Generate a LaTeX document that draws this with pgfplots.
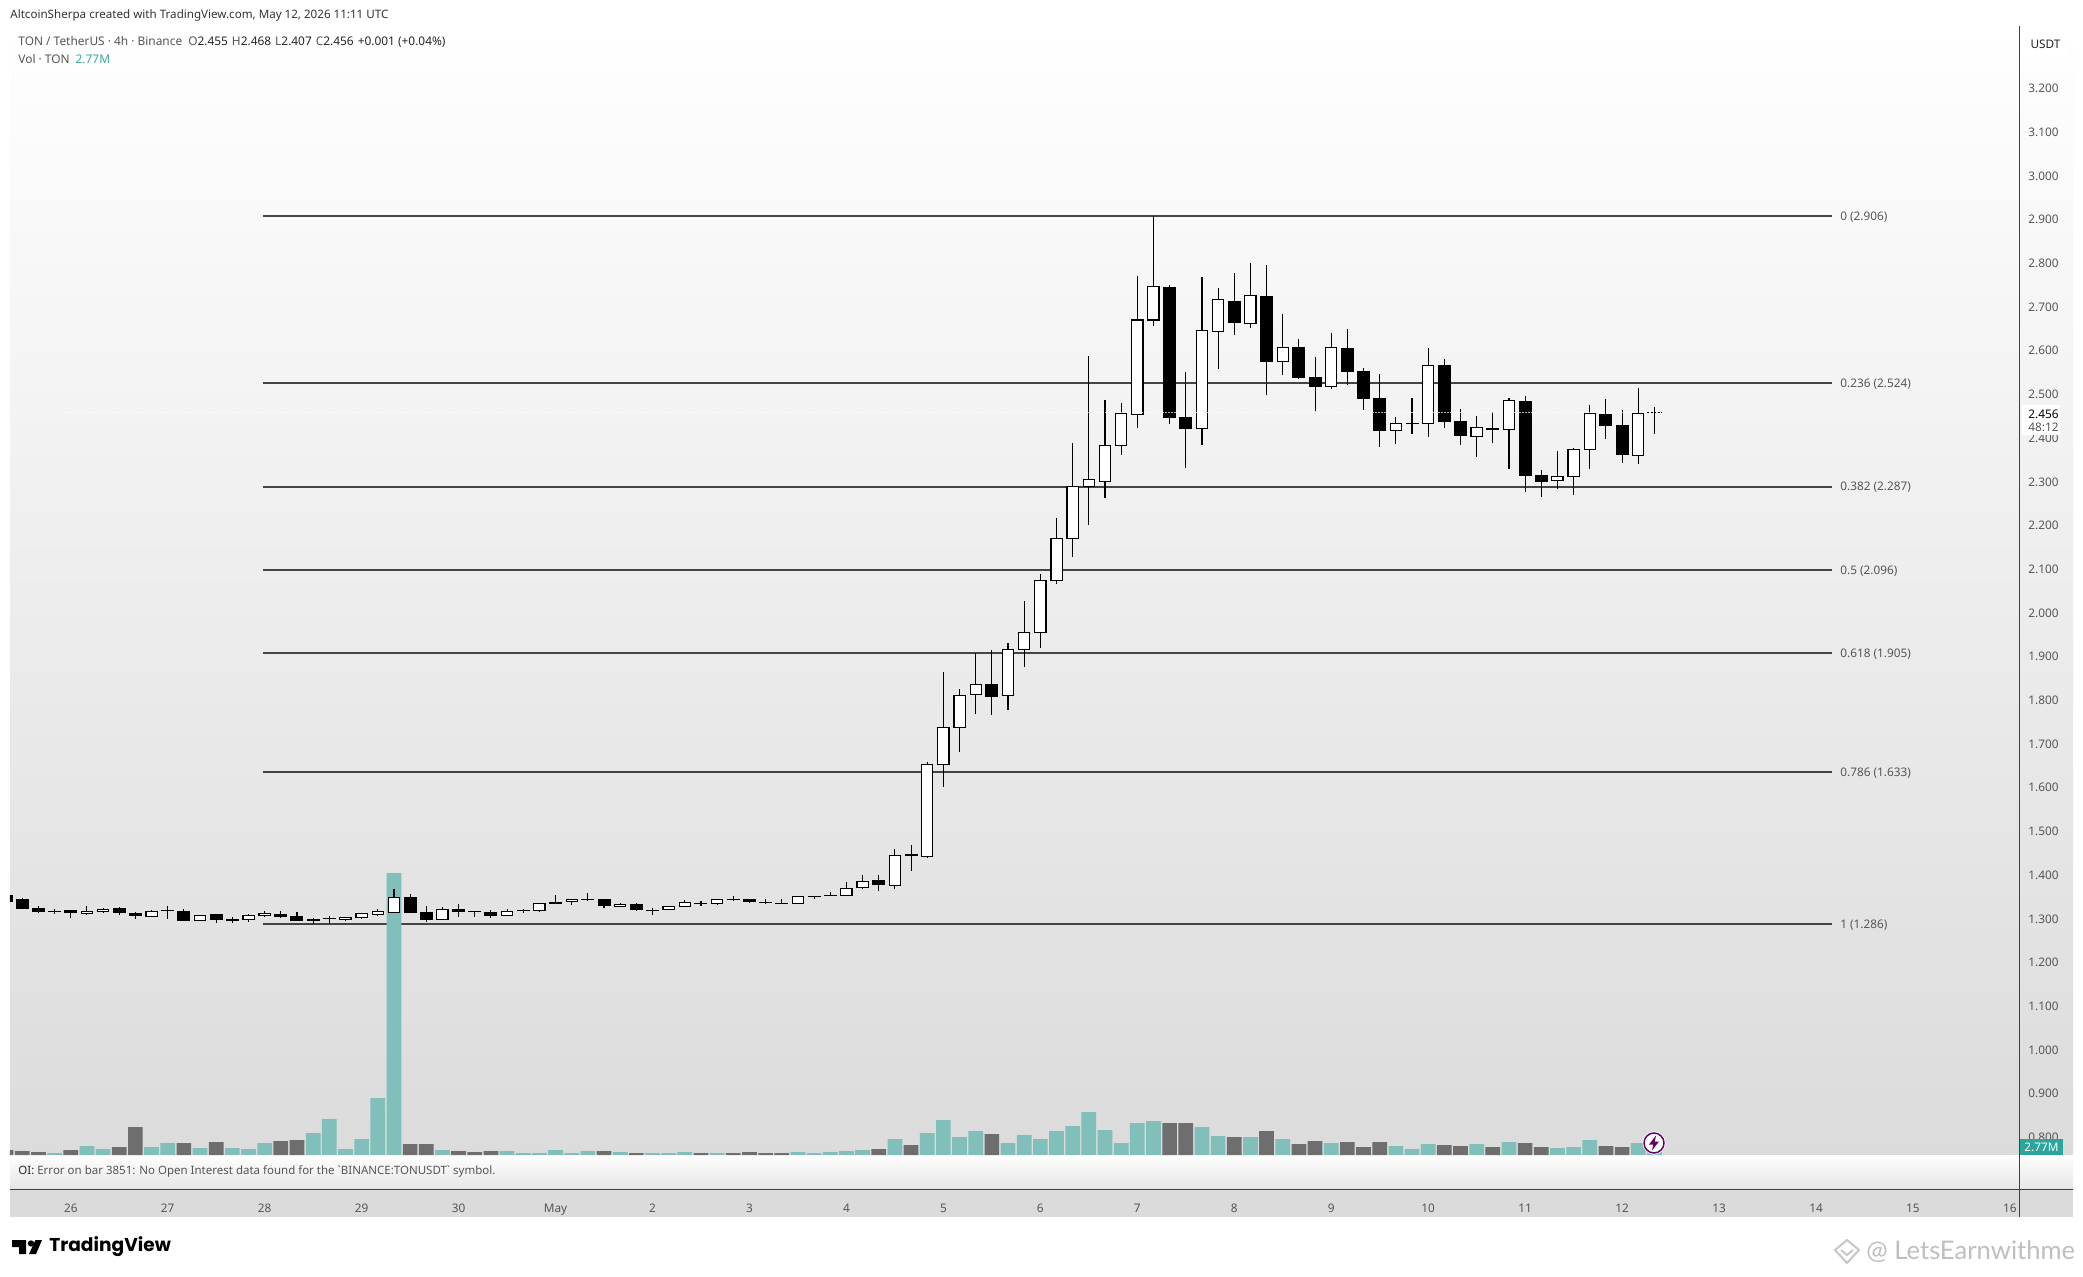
\documentclass[border=0pt]{standalone}
\usepackage{pgfplots}
\usepackage{pgfplotstable}
\pgfplotsset{compat=1.18}
\usepackage{fontspec}
\setmainfont{Noto Sans}
\newfontfamily\logofont{Poppins}
\newfontfamily\wmfont{Lato}
\definecolor{upv}{HTML}{80BFBA}
\definecolor{downv}{HTML}{6E6E6E}
\definecolor{fib}{HTML}{444444}
\definecolor{lab}{HTML}{555555}
\definecolor{tealtxt}{HTML}{3FA79C}
\definecolor{tagteal}{HTML}{2CA59B}
\pgfplotstableread{
k o h l c
4 1.310 1.327 1.307 1.315
5 1.315 1.323 1.310 1.320
8 1.303 1.317 1.303 1.315
11 1.294 1.306 1.294 1.306
14 1.296 1.308 1.291 1.306
15 1.305 1.316 1.301 1.311
20 1.297 1.303 1.293 1.301
21 1.300 1.310 1.298 1.310
22 1.307 1.320 1.305 1.314
23 1.313 1.365 1.313 1.347
26 1.297 1.324 1.297 1.319
30 1.306 1.321 1.305 1.315
32 1.317 1.333 1.314 1.333
34 1.337 1.344 1.330 1.343
37 1.326 1.335 1.324 1.331
40 1.320 1.326 1.319 1.326
41 1.326 1.341 1.324 1.334
43 1.333 1.343 1.329 1.343
48 1.333 1.349 1.333 1.349
51 1.352 1.381 1.352 1.368
52 1.370 1.397 1.365 1.384
54 1.3735 1.4575 1.366 1.443
56 1.440 1.657 1.437 1.651
57 1.651 1.862 1.600 1.736
58 1.736 1.824 1.680 1.809
59 1.810 1.906 1.767 1.833
61 1.808 1.929 1.776 1.913
62 1.913 2.025 1.875 1.952
63 1.952 2.087 1.918 2.073
64 2.071 2.215 2.065 2.169
65 2.169 2.387 2.126 2.286
66 2.286 2.586 2.200 2.302
67 2.298 2.485 2.261 2.380
68 2.380 2.479 2.359 2.453
69 2.451 2.769 2.421 2.668
70 2.668 2.906 2.654 2.744
73 2.419 2.766 2.382 2.643
74 2.641 2.741 2.556 2.714
76 2.661 2.798 2.650 2.723
78 2.573 2.682 2.542 2.606
81 2.515 2.638 2.511 2.604
85 2.415 2.446 2.384 2.432
87 2.432 2.605 2.400 2.565
90 2.401 2.448 2.355 2.421
92 2.418 2.490 2.326 2.483
95 2.300 2.369 2.282 2.309
96 2.309 2.374 2.268 2.371
97 2.371 2.474 2.326 2.453
100 2.359 2.513 2.339 2.453
}\upc
\pgfplotstableread{
k o h l c
-1 1.352 1.352 1.337 1.337
0 1.343 1.346 1.321 1.321
1 1.322 1.327 1.310 1.314
2 1.316 1.321 1.309 1.315
3 1.317 1.317 1.300 1.310
6 1.322 1.324 1.306 1.310
7 1.311 1.314 1.297 1.305
9 1.318 1.326 1.298 1.317
10 1.316 1.321 1.293 1.293
12 1.308 1.308 1.288 1.296
13 1.296 1.303 1.288 1.295
16 1.309 1.316 1.300 1.302
17 1.304 1.314 1.293 1.293
18 1.297 1.299 1.286 1.293
19 1.299 1.304 1.287 1.299
24 1.347 1.355 1.310 1.310
25 1.313 1.328 1.291 1.296
27 1.320 1.332 1.301 1.314
28 1.315 1.315 1.303 1.315
29 1.313 1.318 1.299 1.305
31 1.317 1.321 1.310 1.317
33 1.336 1.353 1.333 1.333
35 1.343 1.356 1.339 1.343
36 1.343 1.343 1.323 1.326
38 1.331 1.333 1.317 1.319
39 1.317 1.323 1.306 1.317
42 1.333 1.339 1.327 1.333
44 1.343 1.349 1.339 1.343
45 1.343 1.343 1.333 1.337
46 1.336 1.343 1.332 1.336
47 1.333 1.343 1.333 1.333
49 1.349 1.349 1.342 1.349
50 1.352 1.358 1.349 1.352
53 1.386 1.399 1.362 1.374
55 1.444 1.467 1.408 1.444
60 1.835 1.913 1.765 1.805
71 2.7435 2.748 2.431 2.4445
72 2.446 2.549 2.330 2.419
75 2.7115 2.776 2.634 2.660
77 2.723 2.794 2.497 2.573
79 2.606 2.625 2.533 2.535
80 2.538 2.584 2.4605 2.515
82 2.604 2.648 2.519 2.549
83 2.551 2.558 2.462 2.488
84 2.490 2.5445 2.378 2.414
86 2.432 2.490 2.408 2.432
88 2.565 2.579 2.421 2.435
89 2.437 2.464 2.382 2.403
91 2.420 2.458 2.387 2.4175
93 2.483 2.495 2.275 2.312
94 2.313 2.3255 2.264 2.298
98 2.453 2.487 2.396 2.426
99 2.428 2.462 2.3415 2.358
}\downc
\pgfplotstableread{
k o h l c
101 2.455 2.468 2.407 2.456
}\livec
\pgfplotstableread{
k v
2 2
4 9
5 6
8 8
9 12
11 7
13 7
14 6
15 12
18 22
19 36
20 6
21 16
22 57
23 282
26 5
30 4
31 2
32 2
33 5
34 2
35 4
37 3
39 2
40 2
41 3
43 2
48 3
49 2
50 3
51 4
52 5
54 16
56 22
57 35
58 18
59 24
61 12
62 20
63 16
64 24
65 29
66 43
67 25
68 12
69 32
70 34
73 28
74 19
76 18
78 16
81 12
85 9
86 6
87 11
90 11
92 13
95 7
96 8
97 15
100 12
101 3
}\volup
\pgfplotstableread{
k v
-1 5
0 4
1 3
3 5
6 8
7 28
10 12
12 13
16 14
17 15
24 11
25 11
27 4
28 3
29 4
36 4
38 2
42 2
44 2
45 3
46 2
47 2
53 6
55 10
60 21
71 32
72 32
75 18
77 24
79 11
80 14
82 13
83 8
84 13
88 10
89 9
91 8
93 12
94 8
98 9
99 8
}\voldown
\pgfplotsset{
  frame/.style={width=1004.5pt,height=564.5pt,scale only axis,at={(5pt,-577.5pt)},anchor=south west,
    xmin=-0.76,xmax=123.56},
  bare/.style={frame,axis lines=none,ticks=none},
}
\newcommand{\fs}{\fontsize{5.9pt}{7pt}\selectfont}
\begin{document}
\begin{tikzpicture}
\begin{scope}[x=0.5pt,y=-0.5pt]
\path[use as bounding box] (0,0) rectangle (2083,1277);
\fill[white] (0,0) rectangle (2083,1277);
\shade[top color=white,bottom color=black!14] (10,26) rectangle (2073,1155);
\shade[top color=white,bottom color=black!10] (10,1155) rectangle (2073,1189);
\fill[black!14] (10,1189) rectangle (2073,1217);
\fill[white] (2023,32) rectangle (2068,57);
\draw[black!75,line width=0.5pt] (2019,26) -- (2019,1217);
\draw[black!75,line width=0.5pt] (10,1189) -- (2073,1189);
\end{scope}
% price axis: fibonacci levels and scale
\begin{axis}[frame,ymin=0.75725,ymax=3.3408,
  axis line style={draw=none},tick style={draw=none},
  ytick pos=right,xtick pos=bottom,
  ytick={0.8,0.9,1.0,1.1,1.2,1.3,1.4,1.5,1.6,1.7,1.8,1.9,2.0,2.1,2.2,2.3,2.4,2.5,2.6,2.7,2.8,2.9,3.0,3.1,3.2},
  xtick={3,9,...,123},
  xticklabels={26,27,28,29,30,May,2,3,4,5,6,7,8,9,10,11,12,13,14,15,16},
  xticklabel style={font=\fs,text=lab,yshift=-21pt},
  yticklabel style={font=\fs,text=lab,xshift=1.2pt,yshift=-0.5pt,/pgf/number format/.cd,fixed,fixed zerofill,precision=3,assume math mode=true},
]
\addplot[fib,line width=1pt] coordinates {(14.9,2.906)(112.0,2.906)};
\addplot[fib,line width=1pt] coordinates {(14.9,2.524)(112.0,2.524)};
\addplot[fib,line width=1pt] coordinates {(14.9,2.287)(112.0,2.287)};
\addplot[fib,line width=1pt] coordinates {(14.9,2.096)(112.0,2.096)};
\addplot[fib,line width=1pt] coordinates {(14.9,1.905)(112.0,1.905)};
\addplot[fib,line width=1pt] coordinates {(14.9,1.633)(112.0,1.633)};
\addplot[fib,line width=1pt] coordinates {(14.9,1.286)(112.0,1.286)};
\begin{scope}[every node/.style={anchor=west,inner sep=0pt,font=\fs,text=lab,yshift=-0.5pt}]
\node at (axis cs:112.48,2.906) {0 (2.906)};
\node at (axis cs:112.48,2.524) {0.236 (2.524)};
\node at (axis cs:112.48,2.287) {0.382 (2.287)};
\node at (axis cs:112.48,2.096) {0.5 (2.096)};
\node at (axis cs:112.48,1.905) {0.618 (1.905)};
\node at (axis cs:112.48,1.633) {0.786 (1.633)};
\node at (axis cs:112.48,1.286) {1 (1.286)};
\end{scope}
\end{axis}
% volume
\begin{axis}[bare,ymin=0,ymax=1129,ybar,bar width=7.35pt,bar shift=0pt]
\addplot[fill=upv,draw=none] table[x=k,y=v] {\volup};
\addplot[fill=downv,draw=none] table[x=k,y=v] {\voldown};
\end{axis}
% candles
\begin{axis}[bare,ymin=0.75725,ymax=3.3408]
\pgfplotsset{
  wick/.style={draw=none,mark=none,forget plot,error bars/.cd,y dir=both,y explicit,error mark=none,
    error bar style={draw=black,solid,line width=0.55pt}},
  body/.style 2 args={draw=none,mark=none,forget plot,error bars/.cd,y dir=both,y explicit,error mark=none,
    error bar style={draw=#1,solid,line width=#2}},
}
\addplot[wick] table[x=k,y=c,y error plus expr=\thisrow{h}-\thisrow{c},y error minus expr=\thisrow{c}-\thisrow{l}] {\upc};
\addplot[wick] table[x=k,y=c,y error plus expr=\thisrow{h}-\thisrow{c},y error minus expr=\thisrow{c}-\thisrow{l}] {\downc};
\addplot[wick] table[x=k,y=c,y error plus expr=\thisrow{h}-\thisrow{c},y error minus expr=\thisrow{c}-\thisrow{l}] {\livec};
\addplot[body={black}{6.2pt}] table[x=k,y expr=(\thisrow{o}+\thisrow{c})/2,y error expr={abs(\thisrow{o}-\thisrow{c})/2+0.00115}] {\upc};
\addplot[body={white}{5pt}] table[x=k,y expr=(\thisrow{o}+\thisrow{c})/2,y error expr={max(abs(\thisrow{o}-\thisrow{c})/2-0.00115,0)}] {\upc};
\addplot[body={black}{6.5pt}] table[x=k,y expr=(\thisrow{o}+\thisrow{c})/2,y error expr={max(abs(\thisrow{o}-\thisrow{c})/2,0.0011)}] {\downc};
\addplot[white,opacity=0.7,line width=0.5pt,dash pattern=on 0.75pt off 0.75pt,forget plot] coordinates {(-0.76,2.456)(100.5,2.456)};
\addplot[black,line width=0.5pt,dash pattern=on 1pt off 0.75pt,forget plot] coordinates {(100.55,2.456)(101.45,2.456)};
\end{axis}
\begin{scope}[x=0.5pt,y=-0.5pt,every node/.style={inner sep=0pt}]
% header
\node[anchor=west,font=\fontsize{5.8pt}{7pt}\selectfont,text=black!80] at (10,15) {AltcoinSherpa created with TradingView.com, May 12, 2026 11:11 UTC};
\node[anchor=west,font=\fontsize{5.95pt}{7pt}\selectfont,text=lab] at (18,42) {TON / TetherUS · 4h · Binance\hspace{3pt}O\textcolor{black!85}{2.455}\hspace{2pt}H\textcolor{black!85}{2.468}\hspace{2pt}L\textcolor{black!85}{2.407}\hspace{2pt}C\textcolor{black!85}{2.456}\hspace{2pt}\textcolor{black!85}{+0.001 (+0.04\%)}};
\node[anchor=west,font=\fontsize{5.95pt}{7pt}\selectfont,text=lab] at (18,59) {Vol · TON\hspace{3pt}\textcolor{tealtxt}{2.77M}};
% OI
\node[anchor=west,font=\fontsize{5.75pt}{7pt}\selectfont,text=lab] at (18,1171) {\textcolor{black!85}{OI:} Error on bar 3851: No Open Interest data found for the \textasciigrave BINANCE:TONUSDT\textasciigrave\ symbol.};
% scale tags
\node[font=\fs,text=black!85] at (2045.5,44.5) {USDT};
\fill[white] (2022,405) rectangle (2060,435);
\node[anchor=west,font=\fs,text=black] at (2028,414) {2.456};
\node[anchor=west,font=\fs,text=lab] at (2028,427) {48:12};
\fill[tagteal] (2020,1139) rectangle (2063,1155);
\node[font=\bfseries\fs,text=white] at (2041.5,1147) {2.77M};
% lightning mark
\draw[white,fill=white,line width=1pt] (1654,1143) circle (10.5);
\draw[violet!80!black,line width=0.75pt] (1654,1143) circle (10);
\fill[violet!80!black] (1656,1135.5) -- (1649,1144.5) -- (1653.2,1144.5) -- (1652,1150.5) -- (1659,1141.5) -- (1654.8,1141.5) -- cycle;
% logo
\fill[black] (12,1240) -- (26,1240) -- (26,1254) -- (19,1254) -- (19,1247) -- (12,1247) -- cycle;
\fill[black] (31,1243.5) circle (3.2);
\fill[black] (35.5,1240) -- (42,1240) -- (36,1254) -- (29,1254) -- cycle;
\node[anchor=west,font=\logofont\fontsize{9.3pt}{12pt}\selectfont\bfseries,text=black] at (49,1247) {TradingView};
% watermark
\node[anchor=west,font=\wmfont\fontsize{12.8pt}{14pt}\selectfont,text=black!25] at (1866,1252) {@ LetsEarnwithme};
\draw[black!22,line width=1pt] (1847,1240) -- (1859,1250) -- (1847,1263) -- (1835,1250) -- cycle;
\draw[black!22,line width=1pt] (1841,1250) -- (1847,1255) -- (1853,1250);
\end{scope}
\end{tikzpicture}
\end{document}
